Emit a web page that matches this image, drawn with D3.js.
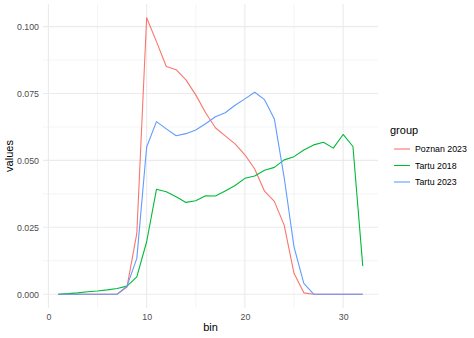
<!DOCTYPE html>
<html><head><meta charset="utf-8">
<script src="https://cdn.jsdelivr.net/npm/d3@7"></script>
<style>body{margin:0;background:#fff}svg{display:block;font-family:"Liberation Sans",Arial,sans-serif}</style>
</head><body><svg id="c" width="474" height="338"></svg>
<script>
const bins = d3.range(1, 33);
const groups = ["Poznan 2023", "Tartu 2018", "Tartu 2023"];
const colors = ["#F8766D", "#00BA38", "#619CFF"];
const poznan2023 = [0,0,0,0,0,0,0,0.0027,0.0227,0.1033,0.0944,0.0851,0.0839,0.0801,0.0745,0.0678,0.0622,0.0592,0.0562,0.0521,0.0468,0.0385,0.0347,0.0258,0.0078,0.0005,0,0,0,0,0,0];
const tartu2018 = [0,0.0002,0.0005,0.0009,0.0012,0.0016,0.0021,0.003,0.0065,0.0196,0.0392,0.0383,0.0364,0.0343,0.0349,0.0368,0.0367,0.0386,0.0406,0.0433,0.0442,0.0463,0.0474,0.0502,0.0514,0.0539,0.0558,0.0568,0.0546,0.0597,0.0552,0.0105];
const tartu2023 = [0,0,0,0,0,0,0,0.003,0.0134,0.055,0.0645,0.0618,0.0592,0.060,0.0614,0.0637,0.0663,0.0678,0.0706,0.073,0.0755,0.0727,0.0655,0.0436,0.0177,0.004,0,0,0,0,0,0];
const seriesValues = [poznan2023, tartu2018, tartu2023];
const xTicks = [0, 10, 20, 30];
const yTicks = [0, 0.025, 0.05, 0.075, 0.1];

const svg = d3.select("#c");
const L = 43, R = 378, T = 4, B = 308;
const x = d3.scaleLinear().domain([-0.55, 33.55]).range([L, R]);
const yMax = 0.1033;
const y = d3.scaleLinear().domain([-yMax*0.05, yMax*1.05]).range([B, T]);

const g = svg.append("g");
// minor grid
const xMinor = [5, 15, 25];
const yMinor = [0.0125, 0.0375, 0.0625, 0.0875];
g.selectAll(".xm").data(xMinor).join("line").attr("x1", d=>x(d)).attr("x2", d=>x(d)).attr("y1", T).attr("y2", B).attr("stroke", "#EBEBEB").attr("stroke-width", 0.55);
g.selectAll(".ym").data(yMinor).join("line").attr("x1", L).attr("x2", R).attr("y1", d=>y(d)).attr("y2", d=>y(d)).attr("stroke", "#EBEBEB").attr("stroke-width", 0.55);
// major grid
g.selectAll(".xM").data(xTicks).join("line").attr("x1", d=>x(d)).attr("x2", d=>x(d)).attr("y1", T).attr("y2", B).attr("stroke", "#EBEBEB").attr("stroke-width", 1.1);
g.selectAll(".yM").data(yTicks).join("line").attr("x1", L).attr("x2", R).attr("y1", d=>y(d)).attr("y2", d=>y(d)).attr("stroke", "#EBEBEB").attr("stroke-width", 1.1);

// axes
const xAxis = d3.axisBottom(x).tickValues(xTicks).tickSize(0).tickPadding(4).tickFormat(d3.format("d"));
const yAxis = d3.axisLeft(y).tickValues(yTicks).tickSize(0).tickPadding(4).tickFormat(d3.format(".3f"));
const gx = svg.append("g").attr("transform", `translate(0,${B})`).call(xAxis);
const gy = svg.append("g").attr("transform", `translate(${L},0)`).call(yAxis);
[gx, gy].forEach(a => { a.select(".domain").remove(); a.selectAll("text").attr("fill", "#4D4D4D").attr("font-size", "8.8px"); });
gx.selectAll("text").attr("dy", "0.95em");

// lines
const line = d3.line().x((d, i) => x(bins[i])).y(d => y(d));
groups.forEach((gname, i) => {
  svg.append("path").datum(seriesValues[i]).attr("d", line).attr("fill", "none")
    .attr("stroke", colors[i]).attr("stroke-width", 1.1).attr("stroke-linejoin", "round");
});

// axis titles
svg.append("text").attr("x", (L + R) / 2).attr("y", 331).attr("text-anchor", "middle").attr("font-size", "11px").attr("fill", "#000").text("bin");
svg.append("text").attr("transform", `translate(13,${(T + B) / 2}) rotate(-90)`).attr("text-anchor", "middle").attr("font-size", "11px").attr("fill", "#000").text("values");

// legend
const lg = svg.append("g").attr("transform", "translate(390,0)");
lg.append("text").attr("x", 0).attr("y", 134).attr("font-size", "11px").attr("fill", "#000").text("group");
groups.forEach((gname, i) => {
  const yy = 149 + i * 16.5;
  lg.append("line").attr("x1", 4).attr("x2", 20).attr("y1", yy).attr("y2", yy).attr("stroke", colors[i]).attr("stroke-width", 1.1);
  lg.append("text").attr("x", 25).attr("y", yy).attr("dy", "0.35em").attr("font-size", "8.8px").attr("fill", "#000").text(gname);
});
</script></body></html>
